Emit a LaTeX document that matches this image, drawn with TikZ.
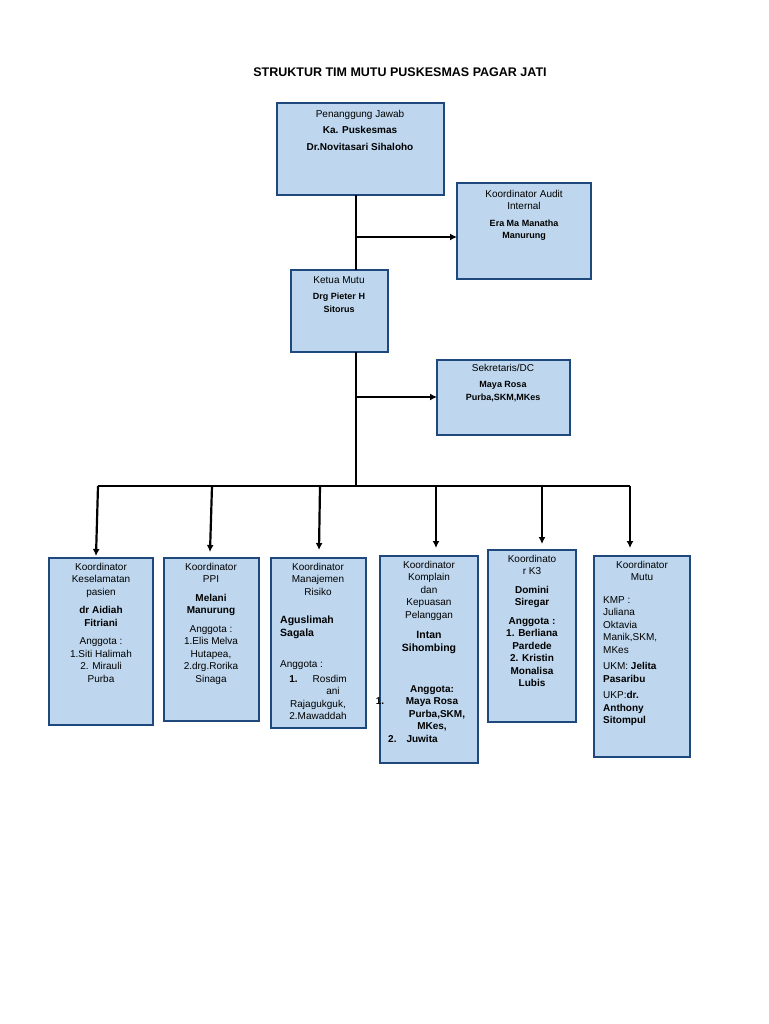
\documentclass[tikz,border=0pt]{standalone}
\usepackage{fontspec}
\usetikzlibrary{arrows.meta}
\setmainfont{Liberation Sans}
\definecolor{bfill}{RGB}{190,215,238}
\definecolor{bdraw}{RGB}{31,73,125}
\begin{document}
\begin{tikzpicture}[x=1pt,y=-1pt,
  box/.style={draw=bdraw,line width=2.2pt,fill=bfill},
  txt/.style={anchor=north,align=center,font=\fontsize{10}{12.5}\selectfont,inner sep=0pt},
  ln/.style={line width=2.2pt},
  arr/.style={line width=2.2pt,-{Latex[length=7pt,width=7pt]}}]
\useasboundingbox (0,0) rectangle (768,1024);
\node[font=\bfseries\fontsize{12.5}{14}\selectfont] (title) at (400,72) {STRUKTUR TIM MUTU PUSKESMAS PAGAR JATI};
% boxes
\draw[box] (277,103) rectangle (444,195) coordinate (pj);
\draw[box] (457,183) rectangle (591,279);
\draw[box] (291,270) rectangle (388,352);
\draw[box] (437,360) rectangle (570,435);
\draw[box] (49,558) rectangle (153,725);
\draw[box] (164,558) rectangle (259,721);
\draw[box] (271,558) rectangle (366,728);
\draw[box] (380,556) rectangle (478,763);
\draw[box] (488,550) rectangle (576,722);
\draw[box] (594,556) rectangle (690,757);
% texts
\node[txt] (t1) at (360,110) {Penanggung Jawab\\[4pt]\textbf{Ka. Puskesmas}\\[4pt]\textbf{Dr.Novitasari Sihaloho}};
\node[txt] (t2) at (524,190) {Koordinator Audit\\Internal\\[4pt]{\fontsize{9}{12}\selectfont\bfseries Era Ma Manatha}\\{\fontsize{9}{12}\selectfont\bfseries Manurung}};
\node[txt] (t3) at (339,276) {Ketua Mutu\\[4pt]{\fontsize{9}{12}\selectfont\bfseries Drg Pieter H}\\{\fontsize{9}{12}\selectfont\bfseries Sitorus}};
\node[txt] (t4) at (503,364) {Sekretaris/DC\\[4pt]{\fontsize{9}{12}\selectfont\bfseries Maya Rosa}\\{\fontsize{9}{12}\selectfont\bfseries Purba,SKM,MKes}};
\node[txt] (b1) at (101,563) {Koordinator\\Keselamatan\\pasien\\[6pt]\textbf{dr Aidiah}\\\textbf{Fitriani}\\[6pt]Anggota :\\1.Siti Halimah\\2. Mirauli\\Purba};
\node[txt] (b2) at (211,563) {Koordinator\\PPI\\[6pt]\textbf{Melani}\\\textbf{Manurung}\\[6pt]Anggota :\\1.Elis Melva\\Hutapea,\\2.drg.Rorika\\Sinaga};
\node[txt] (b3) at (318,563) {Koordinator\\Manajemen\\Risiko};
\node[txt,anchor=north west,align=left,font=\bfseries\fontsize{10.5}{13}\selectfont] (b3n) at (280,616) {Aguslimah\\Sagala};
\node[txt,anchor=north west,align=left] (b3a) at (280,660) {Anggota :};
\node[txt] (b3b) at (318,675) {\textbf{1.}\hspace{1.5em}Rosdim\\\hspace{3em}ani\\Rajagukguk,\\2.Mawaddah};
\node[txt] (b4) at (429,561) {Koordinator\\Komplain\\dan\\Kepuasan\\Pelanggan\\[8pt]{\bfseries\fontsize{10.5}{13}\selectfont Intan}\\{\bfseries\fontsize{10.5}{13}\selectfont Sihombing}};
\node[txt,font=\bfseries\fontsize{10}{12.5}\selectfont] (b4a) at (432,685) {Anggota:\\Maya Rosa\\\hspace{1em}Purba,SKM,\\MKes,};
\node[txt,font=\bfseries\fontsize{10}{12.5}\selectfont] (b4b) at (380,697) {1.};
\node[txt,font=\bfseries\fontsize{10}{12.5}\selectfont,anchor=north west] (b4c) at (388,735) {2.\hspace{1em}Juwita};
\node[txt] (b5) at (532,555) {Koordinato\\r K3\\[6pt]\textbf{Domini}\\\textbf{Siregar}\\[6pt]\textbf{Anggota :}\\\textbf{1. Berliana}\\\textbf{Pardede}\\\textbf{2. Kristin}\\\textbf{Monalisa}\\\textbf{Lubis}};
\node[txt] (b6) at (642,561) {Koordinator\\Mutu};
\node[txt,anchor=north west,align=left] (b6a) at (603,596) {KMP :\\Juliana\\Oktavia\\Manik,SKM,\\MKes\\[4pt]UKM: \textbf{Jelita}\\\textbf{Pasaribu}\\[4pt]UKP:\textbf{dr.}\\\textbf{Anthony}\\\textbf{Sitompul}};
% connectors
\coordinate (v1) at (356,195); \coordinate (v2) at (356,270);
\coordinate (j1) at (356,237); \coordinate (e1) at (457,237);
\coordinate (v3) at (356,352); \coordinate (v4) at (356,486);
\coordinate (j2) at (356,397); \coordinate (e2) at (437,397);
\draw[ln] (v1) -- (v2);
\draw[arr] (j1) -- (e1);
\draw[ln] (v3) -- (v4);
\draw[arr] (j2) -- (e2);
\coordinate (hL) at (98,486); \coordinate (hR) at (630,486);
\draw[ln] (hL) -- (hR);
\foreach \a/\b/\c in {98/96/556, 212/210/552, 320/319/550, 436/436/548, 542/542/544, 630/630/548}{
  \draw[arr] (\a,486) -- (\b,\c);
}
\end{tikzpicture}
\end{document}
